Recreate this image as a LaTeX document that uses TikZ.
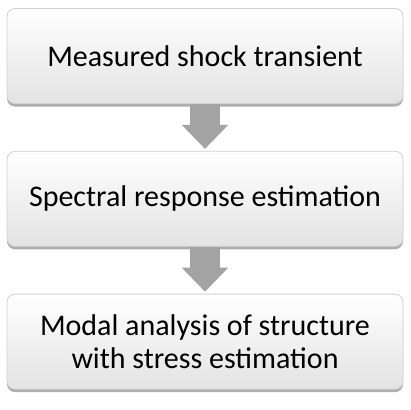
\documentclass[tikz,border=0pt]{standalone}
\usepackage{fontspec}
\setmainfont{Carlito}
\usetikzlibrary{positioning,arrows.meta,shadows}

\begin{document}
\begin{tikzpicture}[font=\fontsize{30}{33}\selectfont, node distance=47pt]
\tikzset{
  box/.style ={rectangle, rounded corners=8pt, draw=black!18, line width=0.8pt, top color=white, bottom color=black!11, align=center, inner sep=0pt, minimum width=396pt, minimum height=95pt, drop shadow={shadow xshift=0pt, shadow yshift=-3pt, opacity=0.45, fill=black!70}},
  flow/.style={draw=black!36, line width=30pt, -{Triangle[length=24pt, width=45pt]}, shorten >=2pt}
}
\useasboundingbox (0pt,0pt) rectangle (410pt,-410pt);
\node[box] (meas) at (205pt,-56pt) {Measured shock transient};
\node[box, below=of meas] (spec) {Spectral response estimation};
\node[box, below=of spec] (modal) {Modal analysis of structure\\with stress estimation};
\draw[flow] (meas) -- (spec);
\draw[flow] (spec) -- (modal);
\end{tikzpicture}
\end{document}
